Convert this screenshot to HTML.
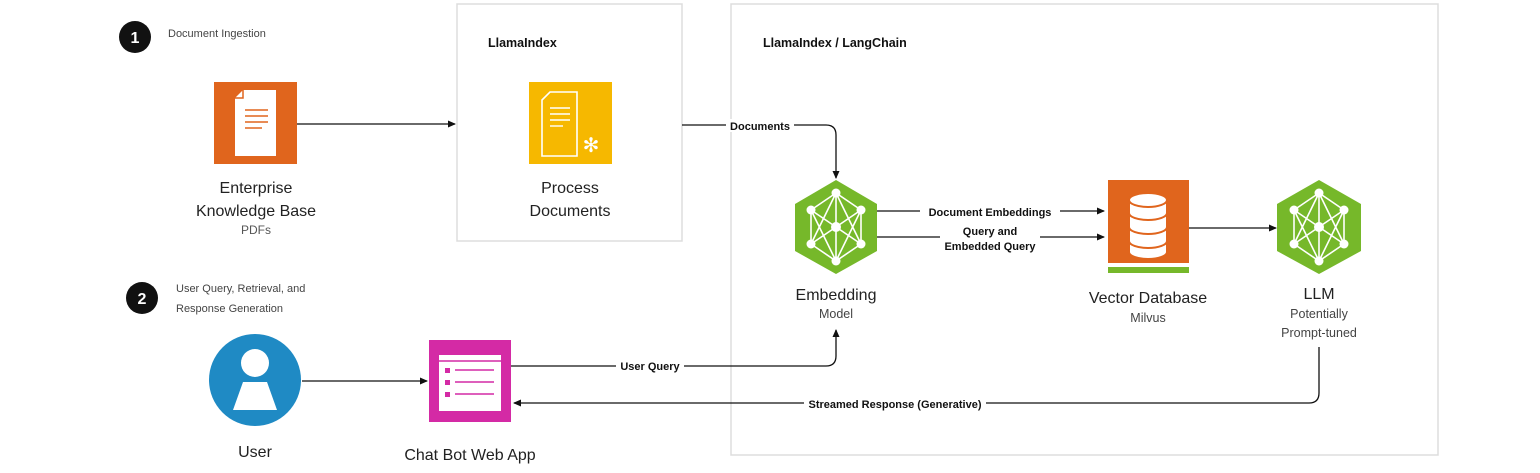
<!DOCTYPE html>
<html><head><meta charset="utf-8"><style>
html,body{margin:0;padding:0;background:#fff;}
svg{display:block;font-family:"Liberation Sans","DejaVu Sans",sans-serif;}
</style></head><body>
<svg width="1540" height="473" viewBox="0 0 1540 473" xmlns="http://www.w3.org/2000/svg">
<defs>
<marker id="a" markerWidth="8" markerHeight="8" refX="7" refY="4" orient="auto" markerUnits="userSpaceOnUse"><path d="M0,0.5 L8,4 L0,7.5 z" fill="#111"/></marker>
<g id="net" stroke="#fff" stroke-width="1.6" fill="none">
<path d="M0,-34 L-25,-17 L-25,17 L0,34 L25,17 L25,-17 Z M0,-34 L0,34 M-25,-17 L25,17 M25,-17 L-25,17 M0,-34 L-25,17 M0,-34 L25,17 M0,34 L-25,-17 M0,34 L25,-17 M-25,-17 L0,0 M25,-17 L0,0"/>
<g fill="#fff" stroke="none"><circle cx="0" cy="-34" r="4.5"/><circle cx="0" cy="34" r="4.5"/><circle cx="-25" cy="-17" r="4.5"/><circle cx="25" cy="-17" r="4.5"/><circle cx="-25" cy="17" r="4.5"/><circle cx="25" cy="17" r="4.5"/><circle cx="0" cy="0" r="5"/></g>
</g>
</defs>
<rect x="457" y="4" width="225" height="237" fill="none" stroke="#ddd" stroke-width="1.5"/>
<rect x="731" y="4" width="707" height="451" fill="none" stroke="#ddd" stroke-width="1.5"/>
<text x="488" y="47" font-size="12.5" font-weight="bold" fill="#111">LlamaIndex</text>
<text x="763" y="47" font-size="12.5" font-weight="bold" fill="#111">LlamaIndex / LangChain</text>
<circle cx="135" cy="37" r="16" fill="#111"/><text x="135" y="43" font-size="16" font-weight="bold" fill="#fff" text-anchor="middle">1</text>
<text x="168" y="37" font-size="11" fill="#444">Document Ingestion</text>
<circle cx="142" cy="298" r="16" fill="#111"/><text x="142" y="304" font-size="16" font-weight="bold" fill="#fff" text-anchor="middle">2</text>
<text x="176" y="292" font-size="11" fill="#444">User Query, Retrieval, and</text>
<text x="176" y="312" font-size="11" fill="#444">Response Generation</text>
<rect x="214" y="82" width="83" height="82" fill="#e0651d"/>
<path d="M235,98 L243,90 L276,90 L276,156 L235,156 Z" fill="#fff"/>
<path d="M235,98 L243,98 L243,90" fill="none" stroke="#e0651d" stroke-width="1.5"/>
<g stroke="#e0651d" stroke-width="1.6"><line x1="245" y1="110" x2="268" y2="110"/><line x1="245" y1="116" x2="268" y2="116"/><line x1="245" y1="122" x2="268" y2="122"/><line x1="245" y1="128" x2="262" y2="128"/></g>
<text x="256" y="193" font-size="16" fill="#222" text-anchor="middle">Enterprise</text>
<text x="256" y="216" font-size="16" fill="#222" text-anchor="middle">Knowledge Base</text>
<text x="256" y="234" font-size="12" fill="#555" text-anchor="middle">PDFs</text>
<line x1="297" y1="124" x2="455" y2="124" stroke="#111" stroke-width="1.3" marker-end="url(#a)"/>
<rect x="529" y="82" width="83" height="82" fill="#f6b800"/>
<path d="M542,100 L550,92 L577,92 L577,156 L542,156 Z" fill="none" stroke="#fff" stroke-width="1.6"/>
<g stroke="#fff" stroke-width="1.4"><line x1="550" y1="108" x2="570" y2="108"/><line x1="550" y1="114" x2="570" y2="114"/><line x1="550" y1="120" x2="570" y2="120"/><line x1="550" y1="126" x2="563" y2="126"/></g>
<circle cx="591" cy="145" r="11" fill="#f6b800"/>
<text x="591" y="152" font-size="20" fill="#fff" text-anchor="middle">✻</text>
<text x="570" y="193" font-size="16" fill="#222" text-anchor="middle">Process</text>
<text x="570" y="216" font-size="16" fill="#222" text-anchor="middle">Documents</text>
<path d="M682,125 L826,125 Q836,125 836,135 L836,178" fill="none" stroke="#111" stroke-width="1.3" marker-end="url(#a)"/>
<rect x="726" y="119" width="68" height="13" fill="#fff"/>
<text x="760" y="130" font-size="11" font-weight="bold" fill="#111" text-anchor="middle">Documents</text>
<path d="M836,180 L877,204 L877,251 L836,274 L795,251 L795,204 Z" fill="#76b82a"/>
<use href="#net" x="836" y="227"/>
<text x="836" y="300" font-size="16" fill="#222" text-anchor="middle">Embedding</text>
<text x="836" y="318" font-size="12.5" fill="#444" text-anchor="middle">Model</text>
<line x1="877" y1="211" x2="1104" y2="211" stroke="#111" stroke-width="1.3" marker-end="url(#a)"/>
<rect x="920" y="205" width="140" height="13" fill="#fff"/>
<text x="990" y="216" font-size="11" font-weight="bold" fill="#111" text-anchor="middle">Document Embeddings</text>
<line x1="877" y1="237" x2="1104" y2="237" stroke="#111" stroke-width="1.3" marker-end="url(#a)"/>
<rect x="940" y="228" width="100" height="26" fill="#fff"/>
<text x="990" y="235" font-size="11" font-weight="bold" fill="#111" text-anchor="middle">Query and</text>
<text x="990" y="250" font-size="11" font-weight="bold" fill="#111" text-anchor="middle">Embedded Query</text>
<rect x="1108" y="180" width="81" height="83" fill="#e0651d"/>
<rect x="1108" y="267" width="81" height="6" fill="#76b82a"/>
<g fill="#fff" stroke="#e0651d" stroke-width="2">
<path d="M1129,241 L1129,252 A19,7 0 0 0 1167,252 L1167,241 Z"/>
<path d="M1129,227 L1129,241 A19,7 0 0 0 1167,241 L1167,227 Z"/>
<path d="M1129,213 L1129,227 A19,7 0 0 0 1167,227 L1167,213 Z"/>
<path d="M1129,200 L1129,213 A19,7 0 0 0 1167,213 L1167,200 Z"/>
<ellipse cx="1148" cy="200" rx="19" ry="7"/>
</g>
<text x="1148" y="303" font-size="16" fill="#222" text-anchor="middle">Vector Database</text>
<text x="1148" y="322" font-size="12.5" fill="#444" text-anchor="middle">Milvus</text>
<line x1="1189" y1="228" x2="1276" y2="228" stroke="#111" stroke-width="1.3" marker-end="url(#a)"/>
<path d="M1319,180 L1361,204 L1361,251 L1319,274 L1277,251 L1277,204 Z" fill="#76b82a"/>
<use href="#net" x="1319" y="227"/>
<text x="1319" y="299" font-size="16" fill="#222" text-anchor="middle">LLM</text>
<text x="1319" y="318" font-size="12.5" fill="#444" text-anchor="middle">Potentially</text>
<text x="1319" y="337" font-size="12.5" fill="#444" text-anchor="middle">Prompt-tuned</text>
<circle cx="255" cy="380" r="46" fill="#1f8ac4"/>
<circle cx="255" cy="363" r="14" fill="#fff"/>
<path d="M243,382 L267,382 L277,410 L233,410 Z" fill="#fff"/>
<text x="255" y="457" font-size="16" fill="#222" text-anchor="middle">User</text>
<line x1="302" y1="381" x2="427" y2="381" stroke="#111" stroke-width="1.3" marker-end="url(#a)"/>
<rect x="429" y="340" width="82" height="82" fill="#d42aa5"/>
<rect x="439" y="355" width="62" height="56" fill="#fff"/>
<line x1="439" y1="361" x2="501" y2="361" stroke="#d42aa5" stroke-width="1.5"/>
<g fill="#d42aa5"><rect x="445" y="368" width="5" height="5"/><rect x="445" y="380" width="5" height="5"/><rect x="445" y="392" width="5" height="5"/></g>
<g stroke="#d42aa5" stroke-width="1.6"><line x1="455" y1="370" x2="494" y2="370"/><line x1="455" y1="382" x2="494" y2="382"/><line x1="455" y1="394" x2="494" y2="394"/></g>
<text x="470" y="460" font-size="16" fill="#222" text-anchor="middle">Chat Bot Web App</text>
<path d="M511,366 L826,366 Q836,366 836,356 L836,330" fill="none" stroke="#111" stroke-width="1.3" marker-end="url(#a)"/>
<rect x="616" y="360" width="68" height="13" fill="#fff"/>
<text x="650" y="370" font-size="11" font-weight="bold" fill="#111" text-anchor="middle">User Query</text>
<path d="M1319,347 L1319,393 Q1319,403 1309,403 L514,403" fill="none" stroke="#111" stroke-width="1.3" marker-end="url(#a)"/>
<rect x="804" y="397" width="182" height="13" fill="#fff"/>
<text x="895" y="408" font-size="11" font-weight="bold" fill="#111" text-anchor="middle">Streamed Response (Generative)</text>
</svg>
</body></html>
